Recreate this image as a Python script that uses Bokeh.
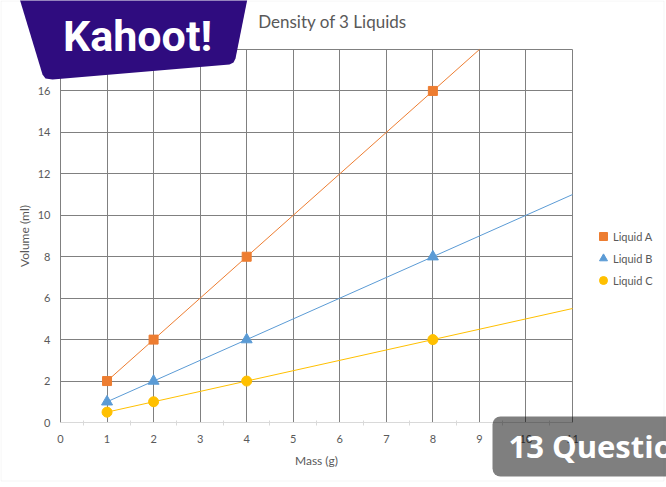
import numpy as np
from bokeh.plotting import figure
from bokeh.models import (Range1d, FixedTicker, Label, BoxAnnotation, PolyAnnotation,
                          Legend, LegendItem)
from bokeh.embed import file_html
from bokeh.resources import INLINE

# ---- data ----
mass = [1, 2, 4, 8]
liquid_a = [2, 4, 8, 16]
liquid_b = [1, 2, 4, 8]
liquid_c = [0.5, 1, 2, 4]
series_names = ["Liquid A", "Liquid B", "Liquid C"]
x_ticks = list(range(0, 12))
x_minor = [0.5, 1.5, 2.5, 3.5, 4.5, 5.5, 6.5, 7.5, 8.5, 9.5, 10.5]
y_ticks = [0, 2, 4, 6, 8, 10, 12, 14, 16]
y_grid = [2, 4, 6, 8, 10, 12, 14, 16, 18]
x_lim = (0, 11)
y_lim = (0, 18)
title_text = "Density of 3 Liquids"
x_label = "Mass (g)"
y_label = "Volume (ml)"
logo_text = "Kahoot!"
badge_text = "13 Questions"

# ---- layout (pixels) ----
W, H = 666, 487
FL, FR, FT, FB = 60, 572, 49, 422   # plot area edges on the canvas
FONT = "Lato"
GRAY = "#595959"

sx = (FR - FL) / (x_lim[1] - x_lim[0])
sy = (FB - FT) / (y_lim[1] - y_lim[0])
x_range = Range1d(x_lim[0] - FL / sx, x_lim[1] + (W - FR) / sx)
y_range = Range1d(y_lim[0] - (H - FB) / sy, y_lim[1] + FT / sy)

p = figure(width=W, height=H, output_backend="svg", toolbar_location=None,
           x_range=x_range, y_range=y_range, title=None, min_border=0)
p.outline_line_color = None
p.background_fill_color = "white"
p.border_fill_color = "white"

def cx(X):
    return X

def cy(Y):
    return H - Y

# outer chart border
p.add_layout(BoxAnnotation(left=cx(0.5), right=cx(663.5), top=cy(0.5), bottom=cy(480.5),
                           left_units="screen", right_units="screen",
                           top_units="screen", bottom_units="screen",
                           fill_alpha=0, line_color="#d9d9d9", line_width=1,
                           level="underlay"))

# x axis
xa = p.xaxis[0]
xa.fixed_location = y_lim[0]
xa.bounds = x_lim
xa.ticker = FixedTicker(ticks=x_ticks, minor_ticks=x_minor)
xa.axis_line_color = "#d9d9d9"
xa.major_tick_line_color = None
xa.major_tick_out = 0
xa.major_tick_in = 0
xa.minor_tick_line_color = "#d9d9d9"
xa.minor_tick_in = 2
xa.minor_tick_out = 3
xa.major_label_standoff = 9
xa.major_label_text_font = FONT
xa.major_label_text_font_size = "11px"
xa.major_label_text_color = GRAY
xa.axis_label = x_label
xa.axis_label_text_font = FONT
xa.axis_label_text_font_size = "12px"
xa.axis_label_text_font_style = "normal"
xa.axis_label_text_color = GRAY
xa.axis_label_standoff = 7

# y axis
ya = p.yaxis[0]
ya.fixed_location = x_lim[0]
ya.bounds = y_lim
ya.ticker = FixedTicker(ticks=y_ticks)
ya.axis_line_color = None
ya.major_tick_line_color = None
ya.minor_tick_line_color = None
ya.major_tick_out = 0
ya.major_tick_in = 0
ya.major_label_standoff = 10
ya.major_label_text_font = FONT
ya.major_label_text_font_size = "11px"
ya.major_label_text_color = GRAY
ya.axis_label = y_label
ya.axis_label_text_font = FONT
ya.axis_label_text_font_size = "12px"
ya.axis_label_text_font_style = "normal"
ya.axis_label_text_color = GRAY
ya.axis_label_standoff = 3

# grids
p.xgrid.ticker = FixedTicker(ticks=x_ticks)
p.xgrid.bounds = x_lim
p.xgrid.cross_bounds = y_lim
p.ygrid.ticker = FixedTicker(ticks=y_grid)
p.ygrid.bounds = y_lim
p.ygrid.cross_bounds = x_lim
for g in (p.xgrid, p.ygrid):
    g.grid_line_color = "#808080"
    g.grid_line_width = 1

# series
colors = ["#ed7d31", "#5b9bd5", "#ffc000"]
markers = ["square", "triangle", "circle"]
sizes = [9, 11, 10]
items = []
for name, vals, c, m, s in zip(series_names, [liquid_a, liquid_b, liquid_c], colors, markers, sizes):
    slope, icpt = np.polyfit(mass, vals, 1)
    x_end = min(x_lim[1], (y_lim[1] - icpt) / slope)
    xl = np.array([mass[0], x_end])
    p.line(xl, slope * xl + icpt, line_color=c, line_width=1)
    r = p.scatter(mass, vals, marker=m, size=s, fill_color=c, line_color=c)
    items.append(LegendItem(label=name, renderers=[r]))

legend = Legend(items=items, location=(593, H - 290), orientation="vertical",
                glyph_width=20, glyph_height=20, spacing=2, padding=0, margin=0,
                label_standoff=-5, label_text_font=FONT, label_text_font_size="11px",
                label_text_color=GRAY, border_line_color=None, background_fill_alpha=0)
p.add_layout(legend, "center")

# title
p.add_layout(Label(x=cx(332), y=cy(21), x_units="screen", y_units="screen",
                   text=title_text, text_align="center", text_baseline="middle",
                   text_font=FONT, text_font_size="17px", text_color=GRAY))

# Kahoot logo
logo_X = [19, 247, 235, 233, 229, 52, 45, 42]
logo_Y = [-2, -2, 58, 62, 64, 79, 78, 74]
p.add_layout(PolyAnnotation(xs=[cx(v) for v in logo_X], ys=[cy(v) for v in logo_Y],
                            xs_units="screen", ys_units="screen",
                            fill_color="#2f0c7f", fill_alpha=1, line_color=None))
p.add_layout(Label(x=cx(137), y=cy(35), x_units="screen", y_units="screen",
                   text=logo_text, text_align="center", text_baseline="middle",
                   text_font="Roboto", text_font_style="bold", text_font_size="43px",
                   text_color="white"))

# question badge
p.add_layout(BoxAnnotation(left=cx(492), right=cx(720), top=cy(416), bottom=cy(476),
                           left_units="screen", right_units="screen",
                           top_units="screen", bottom_units="screen",
                           fill_color="black", fill_alpha=0.5, line_color=None,
                           border_radius=8))
p.add_layout(Label(x=cx(508), y=cy(445), x_units="screen", y_units="screen",
                   text=badge_text, text_align="left", text_baseline="middle",
                   text_font="Open Sans", text_font_style="bold", text_font_size="31px",
                   text_color="white"))

open("out.html", "w").write(file_html(p, INLINE))
